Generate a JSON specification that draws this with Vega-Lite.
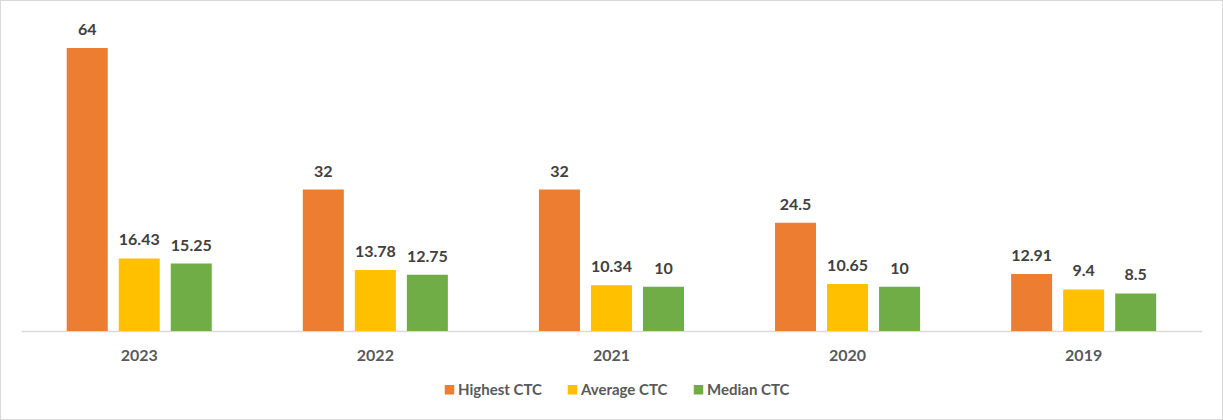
{
  "$schema": "https://vega.github.io/schema/vega-lite/v6.json",
  "width": 1223,
  "height": 420,
  "autosize": {"type": "none"},
  "padding": 0,
  "background": "white",
  "config": {
    "view": {"stroke": "#d9d9d9", "strokeWidth": 2},
    "font": "Lato"
  },
  "data": {
    "values": [
      {"year": "2023", "series": "Highest CTC", "value": 64},
      {"year": "2023", "series": "Average CTC", "value": 16.43},
      {"year": "2023", "series": "Median CTC", "value": 15.25},
      {"year": "2022", "series": "Highest CTC", "value": 32},
      {"year": "2022", "series": "Average CTC", "value": 13.78},
      {"year": "2022", "series": "Median CTC", "value": 12.75},
      {"year": "2021", "series": "Highest CTC", "value": 32},
      {"year": "2021", "series": "Average CTC", "value": 10.34},
      {"year": "2021", "series": "Median CTC", "value": 10},
      {"year": "2020", "series": "Highest CTC", "value": 24.5},
      {"year": "2020", "series": "Average CTC", "value": 10.65},
      {"year": "2020", "series": "Median CTC", "value": 10},
      {"year": "2019", "series": "Highest CTC", "value": 12.91},
      {"year": "2019", "series": "Average CTC", "value": 9.4},
      {"year": "2019", "series": "Median CTC", "value": 8.5}
    ]
  },
  "encoding": {
    "x": {
      "field": "year",
      "type": "nominal",
      "sort": ["2023", "2022", "2021", "2020", "2019"],
      "scale": {"range": [21.2, 1201.7], "paddingInner": 0, "paddingOuter": 0},
      "axis": {
        "title": null,
        "offset": -89,
        "labelAngle": 0,
        "ticks": false,
        "domainColor": "#d9d9d9",
        "domainWidth": 1.5,
        "labelFont": "Lato",
        "labelFontSize": 16,
        "labelFontWeight": "bold",
        "labelColor": "#595959",
        "labelPadding": 16
      }
    },
    "xOffset": {
      "field": "series",
      "type": "nominal",
      "sort": ["Highest CTC", "Average CTC", "Median CTC"],
      "scale": {"paddingInner": 0.2115, "paddingOuter": 0.875}
    },
    "y": {
      "field": "value",
      "type": "quantitative",
      "scale": {"domain": [0, 70], "range": [331, 21.6], "nice": false, "zero": true},
      "axis": null
    }
  },
  "layer": [
    {
      "mark": {"type": "bar"},
      "encoding": {
        "color": {
          "field": "series",
          "type": "nominal",
          "sort": ["Highest CTC", "Average CTC", "Median CTC"],
          "scale": {
            "domain": ["Highest CTC", "Average CTC", "Median CTC"],
            "range": ["#ED7D31", "#FFC000", "#70AD47"]
          },
          "legend": {
            "title": null,
            "orient": "none",
            "legendX": 442,
            "legendY": 382,
            "direction": "horizontal",
            "symbolType": "square",
            "symbolSize": 90,
            "symbolStrokeWidth": 0,
            "labelFont": "Lato",
            "labelFontSize": 15,
            "labelFontWeight": "bold",
            "labelColor": "#595959",
            "labelOffset": 1,
            "columnPadding": 23
          }
        }
      }
    },
    {
      "mark": {
        "type": "text",
        "baseline": "alphabetic",
        "dy": -13,
        "font": "Lato",
        "fontSize": 16,
        "fontWeight": "bold",
        "color": "#404040"
      },
      "encoding": {
        "text": {"field": "value", "type": "quantitative"}
      }
    }
  ]
}
